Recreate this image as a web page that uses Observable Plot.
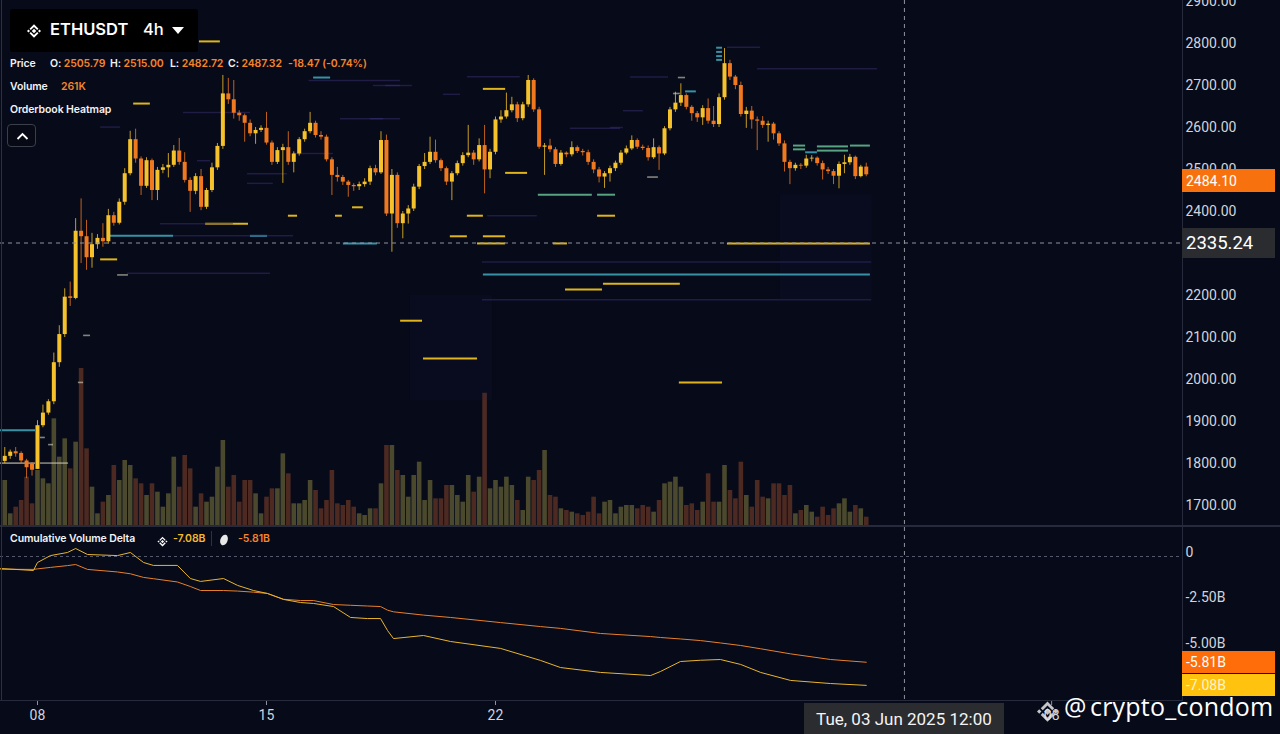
<!DOCTYPE html>
<html><head><meta charset="utf-8">
<script src="https://cdn.jsdelivr.net/npm/d3@7"></script>
<script src="https://cdn.jsdelivr.net/npm/@observablehq/plot@0.6"></script>
<style>
html,body{margin:0;padding:0;background:#060a19;}
#wrap{position:relative;width:1280px;height:734px;overflow:hidden;background:#060a19;font-family:Inter,"Noto Sans",sans-serif;}
#wrap svg.plot{position:absolute;left:0;}
.abs{position:absolute;white-space:nowrap;}
.lg{font-size:10.5px;font-weight:600;color:#f2f3f5;letter-spacing:-0.1px;}
.or{color:#f5842a;}
.box{position:absolute;left:1182px;width:93px;color:#fff;font-family:Roboto,sans-serif;display:flex;align-items:center;padding-left:4px;box-sizing:border-box;}
</style></head>
<body><div id="wrap"></div>
<script>
// ---------------- data ----------------
const candleStartUTC = Date.UTC(2025, 4, 7, 0, 0); // first 4h candle
const openP = [1805,1817,1828,1824,1806,1798,1786,1890,1920,1947,2040,2107,2197,2193,2353,2340,2290,2321,2336,2328,
2390,2372,2422,2490,2571,2525,2460,2521,2450,2498,2504,2510,2544,2517,2474,2448,2483,2410,2450,2504,
2555,2680,2666,2634,2628,2610,2585,2593,2598,2563,2517,2545,2552,2517,2537,2571,2590,2610,2581,2577,
2523,2486,2481,2470,2462,2459,2464,2470,2502,2492,2569,2394,2486,2371,2394,2406,2458,2507,2517,2541,
2521,2502,2470,2490,2514,2533,2539,2523,2557,2499,2541,2618,2625,2640,2654,2621,2654,2712,2642,2553,
2556,2547,2512,2539,2535,2552,2543,2540,2517,2499,2482,2490,2502,2515,2539,2549,2569,2553,2550,2528,
2552,2537,2597,2642,2658,2676,2648,2633,2623,2645,2615,2607,2671,2752,2720,2700,2631,2639,2618,2615,
2605,2608,2585,2561,2517,2502,2510,2508,2525,2527,2514,2499,2495,2484,2512,2516,2529,2483,2505.79];
const highP = [1838,1832,1838,1828,1810,1802,1902,1939,1952,2063,2128,2216,2232,2383,2430,2379,2348,2345,2371,2405,
2398,2430,2502,2591,2596,2530,2528,2525,2505,2512,2538,2557,2574,2540,2480,2490,2500,2455,2515,2562,
2724,2717,2712,2640,2632,2618,2600,2604,2636,2568,2552,2560,2590,2542,2576,2596,2636,2615,2590,2582,
2528,2505,2486,2474,2466,2470,2478,2508,2510,2590,2582,2500,2492,2400,2414,2465,2512,2538,2577,2570,
2525,2506,2495,2520,2540,2605,2545,2573,2605,2548,2625,2640,2682,2672,2660,2660,2724,2716,2648,2562,
2572,2552,2545,2542,2566,2556,2548,2546,2523,2505,2495,2508,2520,2545,2556,2580,2573,2558,2556,2573,
2556,2602,2648,2684,2704,2680,2652,2638,2652,2668,2650,2680,2788,2760,2724,2708,2648,2650,2625,2626,
2615,2612,2590,2568,2522,2515,2514,2534,2533,2530,2520,2505,2500,2518,2534,2536,2532,2510,2515];
const lowP = [1800,1810,1815,1800,1764,1770,1786,1885,1915,1940,2029,2100,2174,2190,2276,2260,2265,2310,2315,2322,
2365,2368,2415,2485,2515,2438,2455,2426,2426,2490,2480,2505,2510,2468,2398,2440,2402,2405,2445,2498,
2548,2655,2620,2615,2565,2578,2560,2588,2558,2510,2512,2467,2510,2492,2532,2565,2585,2575,2570,2518,
2438,2470,2462,2434,2448,2450,2458,2462,2485,2488,2388,2303,2360,2335,2370,2400,2452,2500,2512,2515,
2495,2462,2426,2485,2508,2528,2510,2518,2442,2478,2535,2610,2620,2635,2612,2616,2648,2636,2548,2486,
2540,2505,2508,2528,2530,2538,2532,2510,2490,2468,2455,2470,2495,2510,2535,2545,2548,2545,2520,2524,
2498,2533,2592,2636,2650,2642,2615,2612,2605,2608,2600,2600,2665,2712,2690,2625,2598,2596,2545,2598,
2565,2570,2555,2494,2464,2496,2500,2503,2518,2508,2475,2488,2464,2454,2490,2510,2476,2480,2482.72];
const closeP = [1817,1827,1823,1806,1790,1784,1890,1920,1947,2040,2107,2196,2193,2353,2340,2290,2321,2336,2328,2390,
2372,2422,2490,2571,2525,2460,2521,2450,2498,2504,2510,2544,2517,2474,2448,2483,2410,2450,2504,2555,
2680,2666,2634,2628,2610,2585,2593,2598,2563,2517,2545,2552,2517,2537,2571,2590,2610,2581,2577,2523,
2486,2481,2470,2462,2459,2464,2470,2502,2492,2569,2394,2486,2371,2394,2406,2458,2507,2517,2541,2521,
2502,2470,2490,2514,2533,2539,2523,2557,2499,2541,2618,2625,2640,2654,2621,2654,2712,2642,2553,2556,
2547,2512,2539,2535,2552,2543,2540,2517,2499,2482,2490,2502,2515,2539,2549,2569,2553,2550,2528,2552,
2537,2597,2642,2658,2676,2648,2633,2623,2645,2615,2607,2671,2752,2720,2700,2631,2639,2618,2615,2605,
2608,2585,2561,2517,2502,2510,2508,2525,2527,2514,2499,2495,2484,2512,2516,2529,2483,2505.79,2487.32];
const volumeK = [1288,355,541,728,1381,635,1568,1335,1195,3015,
1941,2455,1615,2361,4424,2175,1101,355,681,868,
1708,1288,1848,1708,1335,1195,868,1195,961,541,
915,1941,1101,1988,1615,541,915,681,821,1661,
2408,1101,1428,681,1288,1288,915,355,821,1055,
1055,2035,1475,635,635,728,1288,1008,495,728,
1568,635,588,728,541,355,308,495,495,1195,
2268,2268,1568,1428,821,1428,1801,728,1288,775,
775,1148,1148,868,681,1428,961,1381,3733,1055,
1288,1101,1381,1148,728,448,1381,1288,1568,2128,
868,821,495,448,401,355,308,401,821,355,
681,728,355,541,588,588,495,588,541,401,
728,1195,1241,1381,1101,588,635,448,681,1475,
681,681,1708,1008,775,1801,868,541,1288,821,
775,1195,1195,868,1148,355,448,588,401,261,
541,308,495,635,775,401,588,495,261];

const priceTicks = [1700,1800,1900,2000,2100,2200,2300,2400,2500,2600,2700,2800,2900];
const cvdTicks = [0,-2.5,-5];
const xTickDays = ["2025-05-08","2025-05-15","2025-05-22","2025-06-08"];

// Orderbook heatmap segments (position in "day of May", price, kind)
const hmFrom  = [12.95,10.94,21.63,13.14,22.31,21.14,20.62,21.63,21.45,25.12,23.77,29.09,24.14,25.30,19.10,19.80,27.62,9.93,15.67,17.11,17.63,
 21.63,6.87,10.23,14.51,17.35,28.76,28.76,28.76,28.76,27.81,16.44,31.48,
 23.31,25.12,31.11,31.11,31.84,31.84,32.85,
 6.87,8.09,8.09,8.34,10.45,9.41,9.25,27.44,27.59,26.65,
 21.14,18.64,20.41,24.29,21.76,18.18,10.75,12.16,26.13,25.91,25.52,30.01,29.09,9.93,12.46,17.26,11.76,14.42,14.42,12.89,15.83,18.27,16.3,21.6,21.6];
const hmTo    = [13.59,11.45,22.31,14.45,22.98,21.63,21.14,22.31,22.31,25.67,24.20,33.46,25.27,27.65,19.77,21.45,28.94,10.45,15.95,17.32,17.96,
 33.46,7.94,12.16,15.03,18.39,28.94,28.94,28.94,28.94,28.14,16.96,31.84,
 24.96,25.67,31.48,31.48,32.79,32.79,33.46,
 7.94,8.95,8.24,8.49,10.78,9.62,9.41,27.65,27.81,26.98,
 22.76,19.46,20.93,25.82,23.28,18.58,15.12,15.83,27.29,26.52,25.91,33.68,30.10,10.54,14.51,19.10,13.99,15.64,15.21,13.29,17.05,19.10,19.1,33.5,33.5];
const hmPrice = [2805,2657,2692,2371,2492,2390,2341,2341,2324,2390,2324,2324,2214,2228,2140,2050,1993,2286,2390,2390,2410,
 2250,1879,2342,2342,2324,2790,2780,2770,2761,2686,2719,2541,
 2440,2440,2557,2548,2555,2545,2557,
 1801,1801,1862,1845,2249,2105,1993,2681,2719,2482,
 2721,2700,2679,2598,2390,2621,2253,2342,2720,2640,2600,2740,2791,2601,2636,2621,2371,2490,2467,2521,2538,2700,2712,2280,2190];
const hmKind  = "yyyyyyyyyyyyyyyyyyyyy"+"cccccccccccc"+"ggggggg"+"wwwwwwwwww"+"ppppppppppppppppppppppppp";
const zoneFrom = [19.40, 30.71], zoneTo = [21.91, 33.52], zoneLow = [1950, 2190], zoneHigh = [2200, 2440];

// Cumulative volume delta (billions)
const cvdTime = ["2025-05-06T21:00","2025-05-07T21:00","2025-05-08T00:00","2025-05-08T09:30","2025-05-08T22:00","2025-05-09T04:00","2025-05-09T12:40","2025-05-10T10:40","2025-05-10T20:10","2025-05-11T05:50","2025-05-11T13:00","2025-05-12T06:40","2025-05-12T16:10","2025-05-12T23:40","2025-05-13T16:30","2025-05-14T02:50","2025-05-14T14:30","2025-05-15T00:40","2025-05-15T12:30","2025-05-16T01:00","2025-05-16T10:30","2025-05-17T01:10","2025-05-17T13:40","2025-05-18T02:00","2025-05-18T11:40","2025-05-18T16:50","2025-05-18T21:10","2025-05-19T19:10","2025-05-20T15:00","2025-05-22T03:40","2025-05-23T09:00","2025-05-23T23:40","2025-05-25T05:00","2025-05-26T17:50","2025-05-27T01:00","2025-05-27T15:40","2025-05-28T06:30","2025-05-28T21:00","2025-05-29T11:50","2025-05-30T02:30","2025-05-31T00:30","2025-06-01T05:50","2025-06-02T08:00"];
const cvdBinance = [-0.66,-0.77,-0.33,0.05,0.22,0.44,0.11,0.05,0.22,-0.33,-0.49,-0.49,-1.21,-1.37,-1.21,-1.59,-1.87,-2.03,-2.36,-2.53,-2.58,-2.75,-3.35,-3.41,-3.41,-4.07,-4.51,-4.34,-4.67,-5.05,-5.71,-6.10,-6.37,-6.54,-6.32,-5.77,-5.70,-5.66,-5.93,-6.37,-6.81,-6.98,-7.08];
const cvdOther   = [-0.70,-0.71,-0.68,-0.60,-0.50,-0.44,-0.71,-0.85,-0.95,-1.15,-1.22,-1.40,-1.65,-1.87,-1.87,-1.90,-1.96,-2.03,-2.35,-2.42,-2.42,-2.64,-2.68,-2.72,-2.75,-2.95,-3.04,-3.22,-3.35,-3.63,-3.85,-3.95,-4.23,-4.40,-4.45,-4.53,-4.62,-4.75,-4.89,-5.07,-5.35,-5.66,-5.81];

const crossDateStr = "2025-06-03T12:00";
const crossPrice = 2325;          // crosshair position
const crossLabel = "2335.24";
const lastPrice = 2484.10;

// ---------------- build ----------------
const UP = "#f6c22b", DOWN = "#f0781f", VUP = "#4b492d", VDOWN = "#4c2a22";
const dayOfMay = d => new Date(Date.UTC(2025, 4, 1) + (d - 1) * 864e5);
const utc = s => new Date(s + "Z");
const times = d3.utcHour.every(4).range(new Date(candleStartUTC), new Date(candleStartUTC + closeP.length * 4 * 3600e3));
const candles = times.map((t, i) => ({date: t, open: openP[i], high: highP[i], low: lowP[i], close: closeP[i], vol: volumeK[i] ?? 0, up: closeP[i] >= openP[i]}));
const kindStyle = {y: ["#f2c41b", 2, 0.92], c: ["#45b4c8", 2, 0.8], g: ["#6cc99c", 2, 0.8], w: ["#d9d6c0", 1.6, 0.6], p: ["#3a2d74", 1.5, 0.5]};
const heat = hmFrom.map((f, i) => ({x1: dayOfMay(f), x2: dayOfMay(hmTo[i]), price: hmPrice[i], color: kindStyle[hmKind[i]][0], w: kindStyle[hmKind[i]][1], o: kindStyle[hmKind[i]][2]}));
const zones = zoneFrom.map((f, i) => ({x1: dayOfMay(f), x2: dayOfMay(zoneTo[i]), y1: zoneLow[i], y2: zoneHigh[i]}));
const cvdRows = cvdTime.map((t, i) => ({date: utc(t), binance: cvdBinance[i], other: cvdOther[i]}));
const crossDate = utc(crossDateStr);
const xDomain = [new Date(Date.UTC(2025, 4, 6, 20, 52)), new Date(Date.UTC(2025, 5, 12, 0, 0))];
const common = {width: 1280, marginLeft: 0, marginRight: 98, marginTop: 0,
  x: {type: "utc", domain: xDomain, axis: null}, color: {type: "identity"},
  style: {background: "transparent", color: "#d1d4dc", fontFamily: "Roboto, sans-serif", overflow: "visible"}};
const dash = {stroke: "#8f939e", strokeDasharray: "4,4", strokeWidth: 1};

const volPlot = Plot.plot({...common, height: 526, marginBottom: 0,
  y: {domain: [0, 14728], axis: null},
  marks: [Plot.ruleX(candles, {x: "date", y1: 0, y2: "vol", stroke: d => d.up ? VUP : VDOWN, strokeWidth: 4.6})]
});

const pricePlot = Plot.plot({...common, height: 526, marginBottom: 0,
  y: {domain: [1650, 2902.4], axis: null},
  marks: [
    Plot.rect(zones, {x1: "x1", x2: "x2", y1: "y1", y2: "y2", fill: "#2c2158", fillOpacity: 0.1}),
    Plot.ruleY(heat, {x1: "x1", x2: "x2", y: "price", stroke: "color", strokeWidth: "w", strokeOpacity: "o"}),
    Plot.ruleX(candles, {x: "date", y1: "low", y2: "high", stroke: d => d.up ? UP : DOWN, strokeWidth: 1, strokeOpacity: 0.8}),
    Plot.ruleX(candles, {x: "date", y1: "open", y2: "close", stroke: d => d.up ? UP : DOWN, strokeWidth: 4}),
    Plot.ruleY([crossPrice], dash),
    Plot.ruleX([crossDate], dash),
    Plot.axisY({anchor: "right", ticks: priceTicks, tickFormat: d => d.toFixed(2), tickSize: 0, tickPadding: 3, fontSize: 14, fill: "#d1d4dc"})
  ]
});

const cvdPlot = Plot.plot({...common, height: 207, marginBottom: 33,
  y: {domain: [-7.967, 1.593], axis: null},
  marks: [
    Plot.ruleY([0], {stroke: "#565b70", strokeDasharray: "3,3", strokeWidth: 1}),
    Plot.ruleX([crossDate], dash),
    Plot.line(cvdRows, {x: "date", y: "other", stroke: "#e8802a", strokeWidth: 1}),
    Plot.line(cvdRows, {x: "date", y: "binance", stroke: "#eab52e", strokeWidth: 1}),
    Plot.axisY({anchor: "right", ticks: cvdTicks, tickFormat: d => d === 0 ? "0" : d.toFixed(2) + "B", tickSize: 0, tickPadding: 3, fontSize: 14, dy: -4, fill: "#d1d4dc"}),
    Plot.axisX({anchor: "bottom", ticks: xTickDays.map(s => utc(s + "T00:00")), tickFormat: d3.utcFormat("%d"), tickSize: 4, tickPadding: 5, fontSize: 14, stroke: "#8f939e", fill: "#d1d4dc"})
  ]
});

const wrap = document.getElementById("wrap");
function add(el, top) { el.classList.add("plot"); el.style.top = top + "px"; wrap.appendChild(el); }
add(volPlot, 0); add(pricePlot, 0); add(cvdPlot, 527);

function div(html, css, cls) { const d = document.createElement("div"); d.className = cls || "abs"; d.style.cssText = css; d.innerHTML = html; wrap.appendChild(d); return d; }
// frame lines
div("", "left:1182px;top:0;width:1px;height:701px;background:#262a3a;");
div("", "left:0;top:525px;width:1280px;height:2px;background:#262a3a;");
div("", "left:0;top:700px;width:1182px;height:1px;background:#262a3a;");
div("", "left:1px;top:0;width:1px;height:700px;background:#2c3142;");

const ys = pricePlot.scale("y"), xs = pricePlot.scale("x"), cy = cvdPlot.scale("y");
// price labels on axis
div(lastPrice.toFixed(2), `top:${ys.apply(lastPrice) + 5 - 11.5}px;height:23px;background:#f7720f;font-size:14px;`, "box");
div(crossLabel, `top:${ys.apply(crossPrice) - 15}px;height:30px;background:#2b2c30;font-size:18.5px;`, "box");
div("-5.81B", `top:${527 + cy.apply(-5.81) - 11}px;height:22px;background:#ff6c0a;font-size:14px;`, "box");
div("-7.08B", `top:${527 + cy.apply(-7.08) - 11}px;height:22px;background:#ffc20e;font-size:14px;color:#fff4d0;`, "box");
const cx = xs.apply(crossDate);
div("Tue, 03 Jun 2025 12:00", `left:${cx - 100}px;top:703px;width:200px;height:31px;background:#2b2c30;color:#f4f4f4;font-family:Roboto,sans-serif;font-size:17px;display:flex;align-items:center;justify-content:center;`);

// Binance-like logo
const logo = (s, c) => `<svg width="${s}" height="${s}" viewBox="0 0 32 32"><g fill="${c}"><polygon points="16,12 20,16 16,20 12,16"/><polygon points="16,4 24,12 21.6,14.4 16,8.8 10.4,14.4 8,12"/><polygon points="16,28 24,20 21.6,17.6 16,23.2 10.4,17.6 8,20"/><polygon points="3.6,16 6.2,13.4 8.8,16 6.2,18.6"/><polygon points="23.2,16 25.8,13.4 28.4,16 25.8,18.6"/></g></svg>`;

// header box
div(`<div style="position:absolute;left:15px;top:13px">${logo(18, "#fff")}</div>
<div style="position:absolute;left:40px;top:10px;font-size:16.5px;font-weight:600;color:#fff;">ETHUSDT</div>
<div style="position:absolute;left:133px;top:10px;font-size:16.5px;font-weight:500;color:#fff;">4h</div>
<svg style="position:absolute;left:162px;top:18px" width="12" height="8"><polygon points="0,0 12,0 6,7" fill="#fff"/></svg>`,
 "left:10px;top:9px;width:188px;height:43px;background:#000;border-radius:3px;");
// price row
const row = (txt, x, y, cls) => div(txt, `left:${x}px;top:${y}px;`, "abs lg " + (cls || ""));
row("Price", 10, 57); row(`O: <span class="or">2505.79</span>`, 50, 57); row(`H: <span class="or">2515.00</span>`, 110, 57);
row(`L: <span class="or">2482.72</span>`, 170, 57); row(`C: <span class="or">2487.32</span>`, 228, 57); row(`<span class="or">-18.47 (-0.74%)</span>`, 288, 57);
row("Volume", 10, 80); row(`<span class="or">261K</span>`, 61, 80);
row("Orderbook Heatmap", 10, 103);
div(`<svg width="29" height="23"><polyline points="9.5,14 14.5,9 19.5,14" fill="none" stroke="#fff" stroke-width="1.8"/></svg>`,
 "left:7px;top:124px;width:29px;height:23px;border:1px solid #3b3f4c;border-radius:4px;background:#070a14;box-sizing:border-box;");
// CVD legend
row("Cumulative Volume Delta", 10, 532);
div(logo(13, "#fff"), "left:156px;top:532px;");
row(`<span style="color:#f3bb2c">-7.08B</span>`, 173, 532);
div("", "left:211px;top:531px;width:1px;height:15px;background:#2d3140;");
div(`<svg width="10" height="14"><ellipse cx="5" cy="7" rx="3.6" ry="5.5" transform="rotate(20 5 7)" fill="#e8e8e8"/></svg>`, "left:219px;top:531px;");
row(`<span class="or">-5.81B</span>`, 238, 532);
// watermark
div(`<div style="position:absolute;left:0;top:3px;opacity:0.85">${logo(27, "#e6e6e6")}</div><div style="position:absolute;left:30px;top:-6px;font-family:'Open Sans',sans-serif;font-size:25px;color:#fff;">@</div><div style="position:absolute;left:56px;top:-6px;font-family:'Open Sans',sans-serif;font-size:25px;color:#fff;letter-spacing:0.2px;">crypto_condom</div>`,
 "left:1034px;top:695px;width:246px;height:32px;");
</script></body></html>
